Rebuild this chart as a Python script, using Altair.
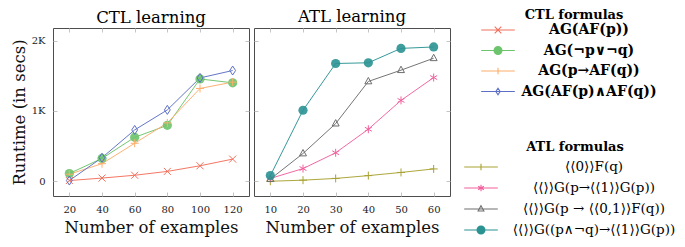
import altair as alt
import pandas as pd

# ---------------- data ----------------
ctl_x = [20, 40, 60, 80, 100, 120]
ctl_names = ["AG(AF(p))", "AG(¬p∨¬q)", "AG(p→AF(q))", "AG(AF(p)∧AF(q))"]
ctl_agafp = [10, 45, 85, 140, 220, 315]
ctl_agnpnq = [110, 325, 625, 795, 1455, 1400]
ctl_agpaf = [100, 250, 540, 830, 1320, 1410]
ctl_agafaf = [10, 335, 730, 1015, 1470, 1575]
ctl_colors = ["#f2705c", "#6cc46c", "#fdae6b", "#5c6fc4"]
ctl_markers = ["x", "circle", "plus", "diamond"]

atl_x = [10, 20, 30, 40, 50, 60]
atl_names = ["⟨⟨0⟩⟩F(q)", "⟨⟨⟩⟩G(p→⟨⟨1⟩⟩G(p))", "⟨⟨⟩⟩G(p → ⟨⟨0,1⟩⟩F(q))",
             "⟨⟨⟩⟩G((p∧¬q)→⟨⟨1⟩⟩G(p))"]
atl_0fq = [0, 15, 40, 80, 125, 175]
atl_g1 = [40, 180, 405, 740, 1150, 1475]
atl_g01 = [30, 395, 820, 1420, 1580, 1750]
atl_gpq = [80, 1010, 1675, 1685, 1890, 1910]
atl_colors = ["#a8a232", "#f2609e", "#6e6e6e", "#2b9292"]
atl_markers = ["plus", "star", "triangle", "circle"]

y_ticks = [0, 1000, 2000]

FONT = "DejaVu Serif"
W, H = 196, 168
TICK = "#c4c4c4"

# ---------------- marker geometry ----------------
POLY = {
    "x": ([[(-1, -1), (1, 1)], [(-1, 1), (1, -1)]], False),
    "plus": ([[(-1, 0), (1, 0)], [(0, -1), (0, 1)]], False),
    "star": ([[(0, -1), (0, 1)], [(-0.87, -0.5), (0.87, 0.5)], [(-0.87, 0.5), (0.87, -0.5)]], False),
    "diamond": ([[(0, -1), (0.65, 0), (0, 1), (-0.65, 0)]], True),
    "triangle": ([[(0, -1), (0.87, 0.6), (-0.87, 0.6)]], True),
}


def poly_path(name, k=1.0):
    lines, closed = POLY[name]
    out = ""
    for pl in lines:
        out += "M" + "L".join(f"{px * k:.3f},{py * k:.3f}" for px, py in pl)
        if closed:
            out += "Z"
    return out


def circle_path(r):
    return f"M{r:.3f},0A{r:.3f},{r:.3f} 0 1,1 {-r:.3f},0A{r:.3f},{r:.3f} 0 1,1 {r:.3f},0Z"


def legend_path(name):
    p = "M-2.8,0L2.8,0"
    if name == "circle":
        for r in [0.66, 0.5, 0.35, 0.2, 0.06]:
            p += circle_path(r)
    else:
        p += poly_path(name, 0.55)
    return p


def inner_axis(orient, values, size):
    return alt.Axis(orient=orient, offset=-size, values=values, labels=False, title=None,
                    ticks=True, tickSize=4, tickColor=TICK, tickWidth=1, domain=False,
                    grid=False)


def make_panel(xs, names, series, colors, markers, xdom, title, first, leg, toff):
    rows = [{"x": x, "y": v, "series": n}
            for n, vs in zip(names, series) for x, v in zip(xs, vs)]
    df = pd.DataFrame(rows)
    cscale = alt.Scale(domain=names, range=colors)
    lg = alt.Legend(**leg)
    xsc = alt.Scale(domain=xdom, nice=False, zero=False)
    ysc = alt.Scale(domain=[-210, 2180], nice=False, zero=False)
    x_main = alt.X("x:Q", scale=xsc,
                   axis=alt.Axis(values=xs, title="Number of examples", labelPadding=8,
                                 titlePadding=5))
    if first:
        y_main = alt.Y("y:Q", scale=ysc, axis=alt.Axis(
            values=y_ticks, title="Runtime (in secs)",
            labelExpr="datum.value == 0 ? '0' : (datum.value / 1000) + 'K'",
            labelPadding=8, titlePadding=4))
    else:
        y_main = alt.Y("y:Q", scale=ysc, axis=None)
    x_none = alt.X("x:Q", scale=xsc, axis=None)
    y_none = alt.Y("y:Q", scale=ysc, axis=None)
    cenc = alt.Color("series:N", scale=cscale, legend=lg)
    base = alt.Chart(df)
    layers = []
    # invisible layer that carries the legend keys (line + marker)
    layers.append(base.mark_point(filled=False, opacity=0).encode(
        x=x_main, y=y_main, color=cenc,
        shape=alt.Shape("series:N", scale=alt.Scale(domain=names,
                                                    range=[legend_path(m) for m in markers]),
                        legend=lg)))
    # inner tick marks on all four sides (pgfplots style)
    layers.append(base.mark_line(opacity=0).encode(
        x=alt.X("x:Q", scale=xsc, axis=inner_axis("top", xs, H)),
        y=alt.Y("y:Q", scale=ysc, axis=inner_axis("right", y_ticks, W)),
        color=cenc))
    layers.append(base.mark_line(opacity=0).encode(
        x=alt.X("x:Q", scale=xsc, axis=inner_axis("bottom", xs, H)),
        y=alt.Y("y:Q", scale=ysc, axis=inner_axis("left", y_ticks, W)),
        color=cenc))
    layers.append(base.mark_line(strokeWidth=1, opacity=0.95).encode(
        x=x_none, y=y_none, color=cenc))
    for n, m, c in zip(names, markers, colors):
        if m == "circle":
            mk = base.mark_point(shape="circle", filled=True, size=85, opacity=0.9, color=c)
        else:
            size = {"x": 49, "plus": 64, "star": 64, "diamond": 81, "triangle": 64}[m]
            mk = base.mark_point(shape=poly_path(m), filled=False, size=size,
                                 strokeWidth=1, opacity=1, color=c)
        layers.append(mk.encode(x=x_none, y=y_none)
                      .transform_filter(alt.datum.series == n))
    return alt.layer(*layers).resolve_axis(x="independent", y="independent").properties(
        width=W, height=H,
        title=alt.Title(title, font=FONT, fontSize=16.5, fontWeight="normal", offset=toff,
                        frame="group"))


common_leg = dict(orient="none", titleFont=FONT, titleFontSize=13, titleFontWeight="bold",
                  titleAnchor="middle", labelFont=FONT, labelLimit=400,
                  symbolSize=144, symbolStrokeWidth=1.1, symbolOpacity=1, padding=0,
                  symbolType="circle", labelAlign="center")

left = make_panel(ctl_x, ctl_names, [ctl_agafp, ctl_agnpnq, ctl_agpaf, ctl_agafaf],
                  ctl_colors, ctl_markers, [10, 130], "CTL learning", True,
                  dict(common_leg, title="CTL formulas", legendX=438, legendY=-19,
                       titlePadding=1, labelFontSize=14, labelFontWeight="bold",
                       labelOffset=84, rowPadding=6.5), -17)
right = make_panel(atl_x, atl_names, [atl_0fq, atl_g1, atl_g01, atl_gpq],
                   atl_colors, atl_markers, [5, 65], "ATL learning", False,
                   dict(common_leg, title="ATL formulas", legendX=220, legendY=113,
                        titlePadding=6, labelFontSize=13.5, labelFontWeight="normal",
                        labelOffset=106, rowPadding=7), 2)

chart = alt.hconcat(left, right, spacing=5).properties(
    bounds="flush", padding={"left": 2, "top": 0, "right": 0, "bottom": 0}
).resolve_scale(color="independent", shape="independent").configure_view(
    stroke="#4d4d4d", strokeWidth=1
).configure_axis(
    labelFont=FONT, labelFontSize=10, labelColor="#222", titleFont=FONT,
    titleFontSize=16.5, titleFontWeight="normal", titleColor="#111",
    ticks=False, domain=False, grid=False
)

chart.save("out.html", embed_options={"renderer": "svg", "actions": False})
